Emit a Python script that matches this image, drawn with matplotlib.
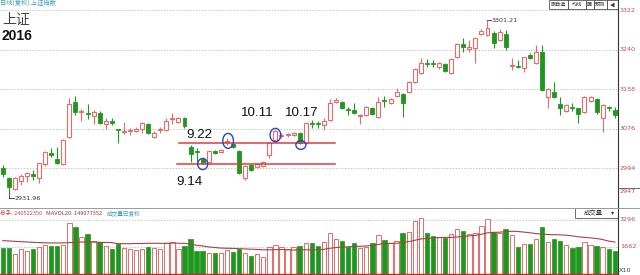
import matplotlib
matplotlib.use("Agg")
import matplotlib.pyplot as plt
import matplotlib.transforms as mtransforms
from matplotlib.patches import Ellipse, Rectangle
import numpy as np
import pandas as pd

# ---------------- data ----------------
opens = [2994, 2974, 2952, 2967, 2978, 2982, 2975, 3003, 3025, 3014,
         3003, 3058, 3132, 3110, 3109, 3103, 3109, 3085, 3093, 3075,
         3070, 3071, 3072, 3075, 3085, 3060, 3073, 3074, 3097, 3091,
         3098, 3039, 3030, 3013, 3008, 3030, 3027, 3048, 3045, 3031,
         2974, 3001, 2996, 2999, 3022, 3053, 3062, 3063, 3063, 3067,
         3046, 3088, 3087, 3084, 3094, 3132, 3131, 3116, 3115, 3102,
         3104.6, 3118.5, 3100, 3135, 3129, 3144, 3148, 3153, 3173.6, 3192,
         3212.5, 3212, 3203, 3210, 3191, 3225, 3251, 3241, 3244, 3272,
         3270, 3275, 3260, 3272, 3207, 3205.5, 3201, 3229, 3212, 3236,
         3141, 3153, 3127, 3113.6, 3121, 3118.5, 3111, 3134, 3137, 3098,
         3121, 3115]
closes = [2982, 2955, 2974, 2979, 2984, 2979, 3005, 3027, 3021, 3006,
          3053, 3127, 3110, 3112, 3107, 3110, 3087, 3092, 3089, 3073,
          3072, 3073, 3076, 3087, 3067, 3068, 3075, 3093, 3099, 3098,
          3081, 3024, 3028, 3006, 3029, 3026, 3032, 3050, 3038, 2984,
          2999, 2991, 3003, 3008, 3046, 3072, 3064, 3065, 3068, 3046,
          3087, 3086, 3085, 3092, 3130, 3136, 3118.5, 3114, 3108, 3104,
          3122, 3106, 3132, 3133, 3137, 3153, 3130, 3173.6, 3199, 3213,
          3211, 3210.5, 3211.6, 3196, 3221, 3251, 3245, 3245, 3263, 3279,
          3284, 3254, 3277, 3246, 3209, 3204, 3224, 3222, 3236, 3156.4,
          3158, 3142.5, 3120, 3125, 3120, 3107, 3141, 3141, 3111, 3125,
          3119.5, 3104.6]
highs = [3001, 2976, 2976, 2982, 2986, 2991, 3006, 3029, 3035.6, 3039,
         3054, 3139, 3143, 3116.4, 3127, 3115, 3112, 3098, 3098, 3076,
         3089.5, 3077, 3079, 3091, 3087, 3072, 3080, 3098, 3108, 3101,
         3100, 3042.5, 3035.6, 3017, 3031, 3033, 3034, 3056, 3047, 3033,
         3001, 3003, 3005, 3010, 3048, 3074, 3068, 3068, 3070, 3070,
         3089, 3094, 3092, 3098, 3137, 3139, 3134, 3122, 3130, 3107,
         3124, 3121, 3142.5, 3144, 3140, 3160, 3150, 3176, 3201, 3222,
         3220, 3218, 3214, 3212, 3223, 3253, 3263, 3260, 3265, 3282,
         3301.21, 3278, 3282, 3280.6, 3222, 3218.5, 3225, 3232, 3249.6, 3249.6,
         3160, 3173.6, 3141, 3127, 3129, 3120, 3143, 3144, 3139, 3127,
         3124, 3122]
lows = [2976, 2931.96, 2949, 2959, 2966, 2970, 2963, 2998, 3017, 3004,
        3002, 3056, 3104.6, 3093, 3096, 3086, 3085, 3075.6, 3084, 3046,
        3065, 3063, 3070, 3067, 3065, 3056, 3067, 3072, 3086, 3089,
        3078, 3008, 3008, 3003, 3006, 3024, 3025, 3043, 3036, 2982,
        2970, 2989, 2994, 2997, 3015, 3050, 3056, 3059, 3061, 3044,
        3044, 3077, 3078, 3073.6, 3092, 3130, 3116, 3104.6, 3106, 3086,
        3102, 3104, 3098, 3122, 3127, 3141, 3101, 3151, 3171, 3190,
        3203, 3205, 3200, 3194, 3189, 3223, 3236, 3236, 3212, 3270,
        3268, 3243, 3258, 3239, 3197.8, 3201, 3193, 3220, 3210, 3154,
        3120, 3140, 3104.6, 3111, 3113.5, 3087, 3109, 3132, 3106.6, 3070,
        3112, 3098]
volumes = [1563, 1563, 1218, 1502, 1401, 1502, 1665, 1766, 1705, 1705,
           1766, 3086, 2883, 2233, 2416, 2010, 1929, 1705, 1502, 1827,
           1563, 1502, 1462, 1502, 1665, 1563, 1502, 1868, 1929, 1502,
           1705, 2152, 1421, 1421, 1259, 1259, 1259, 1462, 1320, 1523,
           1259, 1116, 1218, 1056, 1665, 1766, 1665, 1502, 1624, 1725,
           1868, 1908, 1690, 1929, 2517, 2111, 2010, 1665, 1868, 1563,
           1665, 1908, 2355, 2071, 1868, 1989, 2517, 2558, 3228, 3390,
           2517, 2314, 2233, 2213, 2416, 2720, 2619, 2416, 2477, 2923,
           3370, 2538, 2517, 2720, 2375, 1665, 1807, 1807, 2111, 2883,
           1949, 2111, 2010, 1766, 1604, 1624, 1949, 1766, 1725, 1624,
           1502, 1421]
# MAVOL20 for the first 19 days (needs earlier history)
mavol_head = [2030, 2010, 1990, 1969, 1950, 1930, 1908, 1900, 1890, 1888,
              1895, 1908, 1930, 1949, 1949, 1940, 1929, 1920, 1910]

price_ticks = [3322, 3240, 3158, 3076, 2994]
price_bottom_label = 2947
vol_ticks = [3296, 1662]

high_label = "3301.21"
low_label = "2931.96"
date_labels = ["9.14", "9.22", "10.11", "10.17"]
date_idx = [33, 37, 45, 49]
date_circle_price = [3003, 3051, 3063, 3042.5]
support_price = 3002.5
resist_price = 3046

# ---------------- figure ----------------
W, H = 640, 275
fig = plt.figure(figsize=(W / 100, H / 100), dpi=100)
fig.patch.set_facecolor("white")

PX = 6.06          # pixels per candle
X0 = 2.7           # pixel of first candle
AXR = 618          # right edge of plot area
PPP = 82 / 39.6    # price per pixel

def fx(px):
    return px / W

def fy(py):
    return 1 - py / H

# price panel: y px 9 .. 207
ax = fig.add_axes([0, fy(207), fx(AXR), (207 - 9) / H])
ax.set_xlim((0 - X0) / PX, (AXR - X0) / PX)
ax.set_ylim(3322 - (207 - 10) * PPP, 3322 + 1 * PPP)
ax.axis("off")

# volume panel: y px 208 .. 274
axv = fig.add_axes([0, fy(274), fx(AXR), (274 - 208) / H])
axv.set_xlim(ax.get_xlim())
VPP = 1662 / 27.3
axv.set_ylim(0, 66 * VPP)
axv.axis("off")

GREEN = "#1f971f"
PINK = "#e46c6c"
LABEL = "#c4474a"
GRID = "#c8c8c8"

n = len(opens)
xs = np.arange(n)

# gridlines
for p in price_ticks:
    ax.axhline(p, color=GRID, lw=0.7, ls=(0, (1.5, 1.5)), zorder=0)
for v in vol_ticks:
    axv.axhline(v, color=GRID, lw=0.7, ls=(0, (1.5, 1.5)), zorder=0)

# candles
bw = 0.66
for i in range(n):
    o, c, h, l = opens[i], closes[i], highs[i], lows[i]
    up = c >= o
    top, bot = max(o, c), min(o, c)
    if top - bot < 1.2:
        mid = (top + bot) / 2
        top, bot = mid + 0.6, mid - 0.6
    col = PINK if up else GREEN
    ax.vlines(i, top, h, color=col, lw=0.8, zorder=2)
    ax.vlines(i, l, bot, color=col, lw=0.8, zorder=2)
    if up:
        ax.add_patch(Rectangle((i - bw / 2, bot), bw, top - bot,
                               facecolor="white", edgecolor=col, lw=0.8, zorder=3))
    else:
        ax.add_patch(Rectangle((i - bw / 2, bot), bw, top - bot,
                               facecolor=col, edgecolor=col, lw=0.6, zorder=3))

# high / low markers
ax.plot([80, 80.55], [3301.21, 3301.21], color="#333333", lw=0.6)
ax.text(80.65, 3301.21, high_label, fontsize=4.6, color="#333333",
        va="center", ha="left", family="DejaVu Sans")
ax.plot([1, 1, 1.9], [lows[1] + 3, lows[1], lows[1]], color="#333333", lw=0.6,
        clip_on=False)
ax.text(2.0, lows[1], low_label, fontsize=4.6, color="#333333",
        va="center", ha="left", family="DejaVu Sans")

# support / resistance lines
ax.plot([28.7, 54.8], [support_price, support_price], color="#e23b3b", lw=1.1, zorder=4)
ax.plot([29.1, 54.8], [resist_price, resist_price], color="#e23b3b", lw=1.1, zorder=4)

# circles
circ_w = [10 / PX, 10.7 / PX, 10.7 / PX, 10 / PX]
circ_h = [11 * PPP, 15 * PPP, 13.4 * PPP, 8.7 * PPP]
circ_dx = [0, 0.2, 0, 0.2]
for k in range(4):
    ax.add_patch(Ellipse((date_idx[k] + circ_dx[k], date_circle_price[k]),
                         circ_w[k], circ_h[k], fill=False,
                         edgecolor="#2747c8", lw=1.0, zorder=5))

# date text labels (x px, center y px)
lab_px = [(176.7, 181.7), (186.7, 135), (240.7, 113.5), (285, 113.5)]
for k in range(4):
    xpx, ypx = lab_px[k]
    ax.text((xpx - X0) / PX, 3322 - (ypx - 10) * PPP, date_labels[k],
            fontsize=9.6, color="#111111", family="Liberation Sans",
            ha="left", va="center", zorder=6)

# volume bars
for i in range(n):
    up = closes[i] >= opens[i]
    if up:
        axv.bar(i, volumes[i], width=0.72, facecolor="white", edgecolor=PINK,
                lw=0.7, zorder=2)
    else:
        axv.bar(i, volumes[i], width=0.72, facecolor=GREEN, edgecolor=GREEN,
                lw=0.5, zorder=2)

ma = pd.Series(volumes, dtype=float).rolling(20).mean().to_numpy()
ma[:len(mavol_head)] = mavol_head
axv.plot(xs, ma, color="#a04545", lw=0.8, zorder=3)
axv.axhline(0, color="#b03030", lw=1.0, clip_on=False, zorder=4)

# right axis
fig.add_artist(plt.Line2D([fx(AXR), fx(AXR)], [0, 1], color="#333333", lw=0.8))
trp = mtransforms.blended_transform_factory(fig.transFigure, ax.transData)
for p in price_ticks + [price_bottom_label]:
    ax.text(fx(AXR + 2), p, str(p), transform=trp, fontsize=4.6,
            color=LABEL, va="center", ha="left", family="DejaVu Sans")
fig.add_artist(plt.Line2D([fx(AXR), 1], [fy(188), fy(188)], color="#555555", lw=0.6))
trv = mtransforms.blended_transform_factory(fig.transFigure, axv.transData)
for v in vol_ticks:
    axv.text(fx(AXR + 2), v, str(v), transform=trv, fontsize=4.6,
             color=LABEL, va="center", ha="left", family="DejaVu Sans")
fig.text(fx(AXR + 1), fy(271), "X10", fontsize=4.6, color="#444444",
         va="center", ha="left", family="DejaVu Sans")

# panel separator
fig.add_artist(plt.Line2D([0, 1], [fy(208), fy(208)], color="#9a9a9a", lw=0.7))

# texts top-left
CJK = ["Noto Sans CJK SC", "DejaVu Sans"]
fig.text(fx(0), fy(4), "日线(复权) 上证指数", fontsize=4.5, color="#3a9fb0",
         va="center", ha="left", family=CJK)
fig.text(fx(2), fy(19.5), "上证", fontsize=10, color="#444444",
         va="center", ha="left", family=CJK)
fig.text(fx(2), fy(35.5), "2016", fontsize=10, color="#111111", weight="bold",
         va="center", ha="left", family="Liberation Sans")

# volume header, placed one after another
renderer = fig.canvas.get_renderer()
hdr_parts = [("总手: 240522350", "#c44a4a"),
             ("MAVOL20: 149077352", "#8a3c3c"),
             ("成交量已复权", "#3a9fb0")]
cur = 0.0
for txt, colr in hdr_parts:
    t = fig.text(fx(cur), fy(213.5), txt, fontsize=4.1, color=colr,
                 va="center", ha="left", family=CJK)
    bb = t.get_window_extent(renderer=renderer)
    cur = bb.x1 + 4

# 成交量 box
fig.add_artist(Rectangle((fx(575), fy(218)), fx(AXR - 575), (218 - 208) / H,
                         transform=fig.transFigure, fill=False,
                         edgecolor="#555555", lw=0.6))
fig.text(fx(593), fy(213), "成交量", fontsize=4.6, color="#333333",
         va="center", ha="center", family=CJK)
fig.text(fx(613), fy(213), "▾", fontsize=4.5, color="#333333",
         va="center", ha="center", family="DejaVu Sans")

# top-right buttons
btn_edges = [549, 568, 585.5, 593.5, 606.5, AXR]
btn_text = ["删自选", "均线", "画", "预测", "◀"]
for k in range(5):
    x0, x1 = btn_edges[k], btn_edges[k + 1]
    fig.add_artist(Rectangle((fx(x0), fy(9.3)), fx(x1 - x0), 9.3 / H,
                             transform=fig.transFigure, fill=False,
                             edgecolor="#555555", lw=0.6))
    fig.text(fx((x0 + x1) / 2), fy(4.8), btn_text[k], fontsize=3.7,
             color="#333333", va="center", ha="center", family=CJK)

fig.savefig("out.png", dpi=100, facecolor="white")
